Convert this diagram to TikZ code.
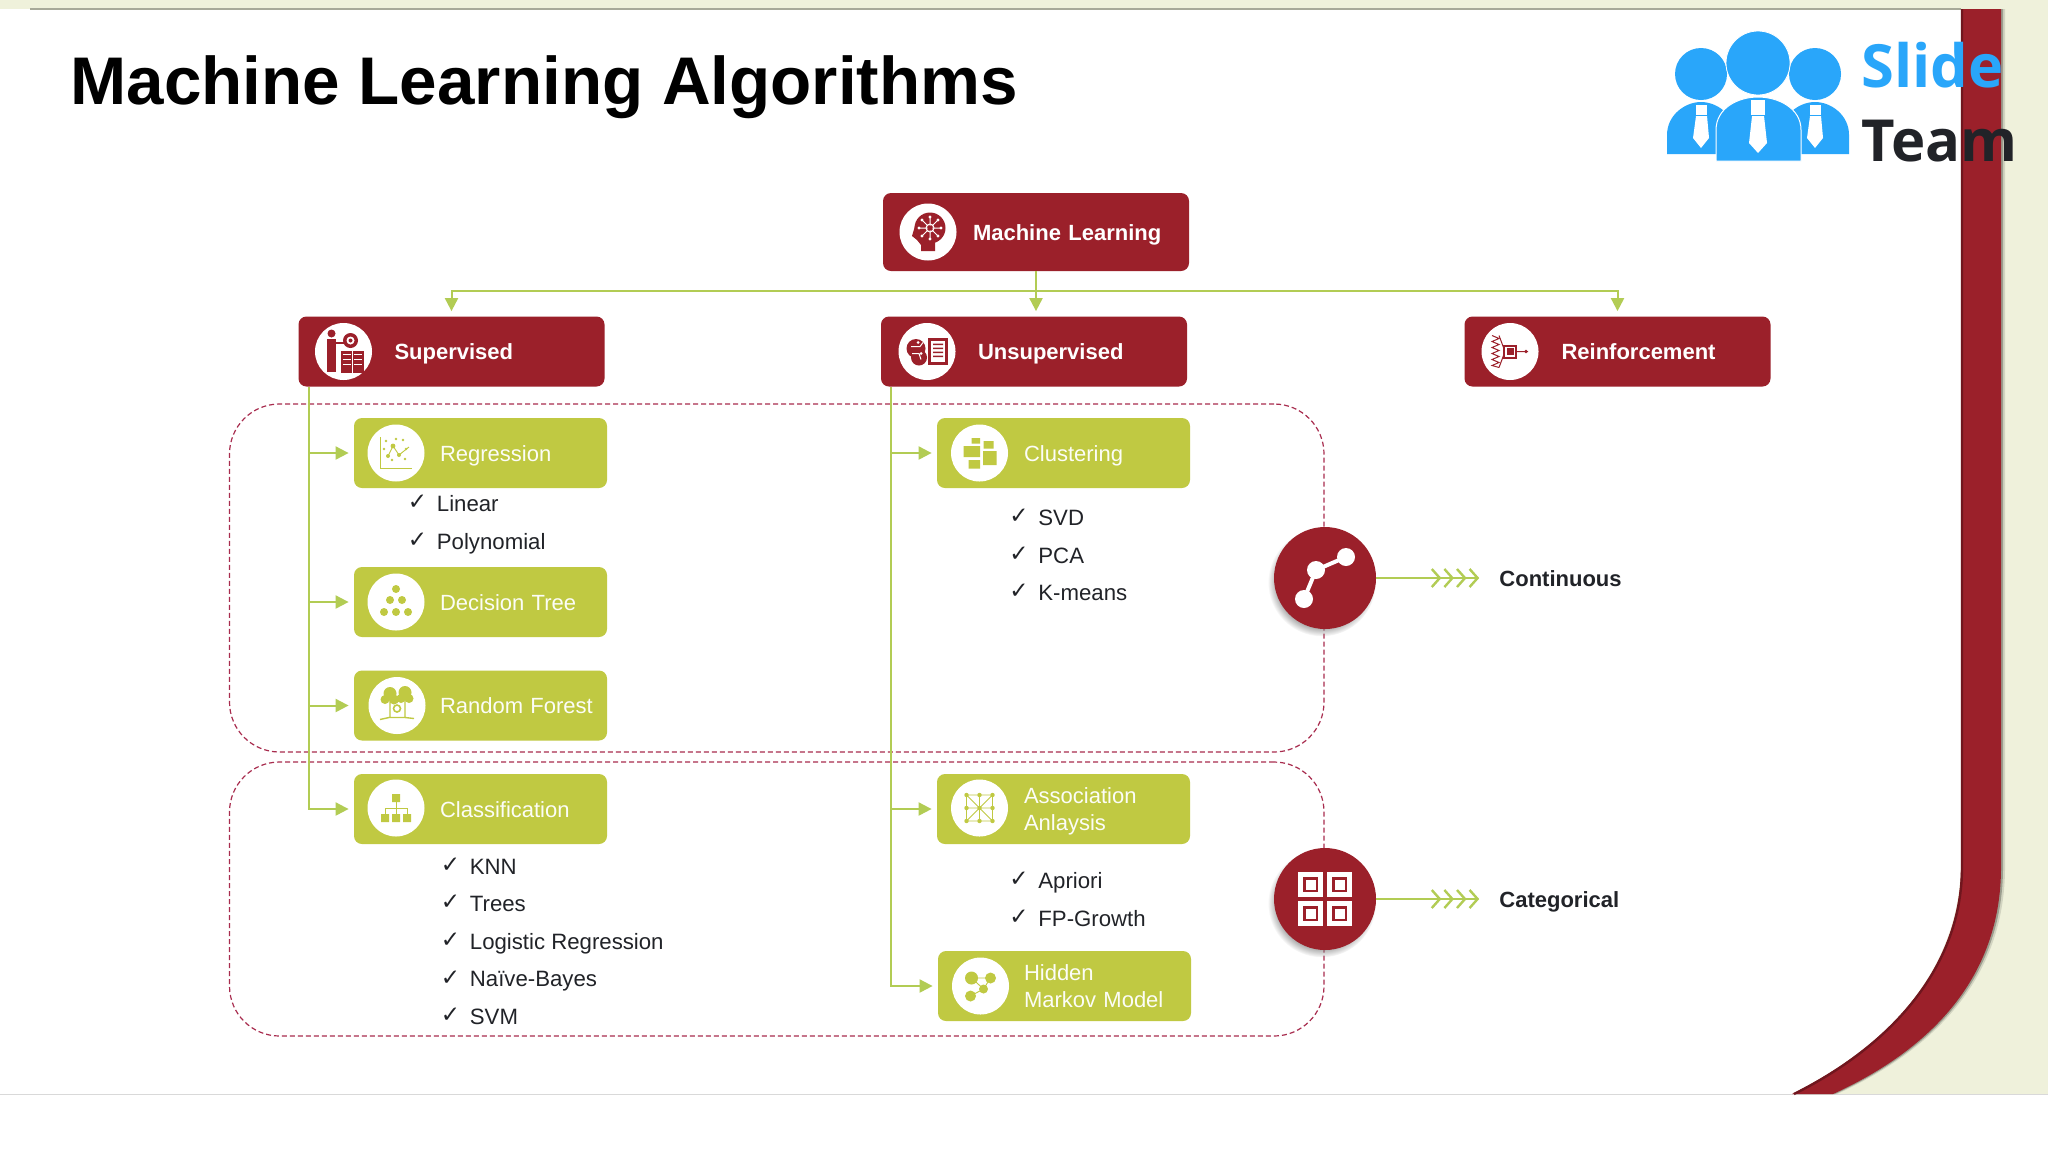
\documentclass[tikz,border=0pt]{standalone}
\usepackage{fontspec}
\setmainfont{Liberation Sans}
\newfontfamily\checkfont{DejaVu Sans}
\newfontfamily\logofont{Open Sans}
\usetikzlibrary{arrows.meta, shadows}
\definecolor{slidered}{RGB}{155,32,42}
\definecolor{darkred}{RGB}{112,22,30}
\definecolor{leafgreen}{RGB}{192,201,66}
\definecolor{linegreen}{RGB}{178,204,84}
\definecolor{dashred}{RGB}{168,44,78}
\definecolor{creambg}{RGB}{239,241,219}
\definecolor{inkgrey}{RGB}{33,35,40}
\definecolor{logoblue}{RGB}{41,166,250}
\newcommand{\chk}{\makebox[14.5pt][l]{\raisebox{0.6pt}{\checkfont\fontsize{11.5}{11}\selectfont ✓}}}
\newcommand{\bandpath}{(1961,9) -- (2001,9) -- (2001,867) .. controls (2001,970) and (1940,1045) .. (1833,1094) -- (1792,1094) .. controls (1900,1040) and (1961,960) .. (1961,867) -- cycle}
\tikzset{
    redbox/.style={rectangle, rounded corners=4pt, minimum width=153pt, minimum height=35pt, text width=153pt, inner xsep=0pt, inner ysep=0pt, align=left, fill=slidered, text=white, font=\fontsize{11}{13.5}\selectfont\bfseries, execute at begin node={\leftskip=#1\rule{0pt}{12.05pt}}, execute at end node={\strut}},
    leafbox/.style={rectangle, rounded corners=4pt, minimum width=126.5pt, minimum height=35pt, text width=126.5pt, inner xsep=0pt, inner ysep=0pt, align=left, fill=leafgreen, text=white!96!leafgreen, font=\fontsize{11}{13.5}\selectfont, execute at begin node={\leftskip=#1\rule{0pt}{12.05pt}}, execute at end node={\strut}},
    iconbadge/.style={circle, minimum size=28.5pt, inner sep=0pt, fill=white},
    groupbox/.style={rectangle, rounded corners=25pt, minimum width=547.25pt, draw=dashred, line width=0.6pt, dash pattern=on 2.5pt off 1.5pt},
    bigdot/.style={circle, minimum size=51pt, inner sep=0pt, fill=slidered, circular drop shadow={shadow scale=1.06, shadow xshift=-1.5pt, shadow yshift=-2pt, opacity=0.6}},
    listitem/.style={anchor=west, inner sep=0pt, text=inkgrey, text height=10.6pt, text depth=2.5pt, font=\fontsize{11.1}{13.5}\selectfont},
    sidelabel/.style={anchor=west, inner sep=0pt, text=inkgrey, text height=10.6pt, text depth=2.5pt, font=\fontsize{11}{13.5}\selectfont\bfseries},
    link/.style={draw=linegreen, line width=1pt, -{Triangle[length=6.5pt,width=6.5pt]}, shorten >=2.5pt},
    chevronlink/.style={draw=linegreen, line width=1pt, -{Straight Barb[length=4pt,width=9pt,sep=0.9pt,line width=1.2pt] Straight Barb[length=4pt,width=9pt,sep=0.9pt,line width=1.2pt] Straight Barb[length=4pt,width=9pt,sep=0.9pt,line width=1.2pt] Straight Barb[length=4pt,width=9pt,sep=0.9pt,line width=1.2pt]}, shorten >=9pt},
    redglyph/.style={fill=slidered, draw=none},
    leafglyph/.style={fill=leafgreen, draw=none},
    redthin/.style={draw=slidered, line width=0.5pt},
    leafthin/.style={draw=leafgreen, line width=0.45pt}
}
\begin{document}
\begin{tikzpicture}[x=0.5pt, y=-0.5pt]
    \useasboundingbox (0,0) rectangle (2048,1152);
    \fill [white] (0,0) rectangle (2048,1152);
    \fill [creambg] (0,0) rectangle (2048,1094);
    \fill [white] (0,9) rectangle (1965,1094);
    \fill [creambg] (1961,860) -- (2048,860) -- (2048,1094) -- (1792,1094) .. controls (1900,1040) and (1961,960) .. cycle;
    \draw [black!30!creambg, line width=1pt] (30,8.5) -- (1961,8.5);
    \draw [black!15!white, line width=0.6pt] (0,1094.5) -- (2048,1094.5);
    \fill [black!12!creambg, xshift=2pt] \bandpath;
    \fill [black!35!creambg, xshift=1pt] \bandpath;
    \fill [slidered] \bandpath;
    \draw [darkred, line width=1.2pt] (1962,9) -- (1962,867) .. controls (1962,960) and (1900,1041) .. (1794,1094);

    \fill [logoblue] (1667,154) -- (1667,135) .. controls (1667,115) and (1685,102) .. (1701,102) .. controls (1717,102) and (1735,115) .. (1735,135) -- (1735,154) -- cycle;
    \fill [logoblue] (1781,154) -- (1781,135) .. controls (1781,115) and (1799,102) .. (1815,102) .. controls (1831,102) and (1849,115) .. (1849,135) -- (1849,154) -- cycle;
    \filldraw [fill=logoblue, draw=white, line width=0.5pt] (1716,161) -- (1716,130) .. controls (1716,108) and (1738,97) .. (1758,97) .. controls (1778,97) and (1801,108) .. (1801,130) -- (1801,161) -- cycle;
    \fill [logoblue] (1701,74) circle (26);
    \fill [logoblue] (1815,74) circle (26);
    \filldraw [fill=logoblue, draw=white, line width=0.4pt] (1758,63) circle (32);
    \fill [white] (1751,100) rectangle (1765,115);
    \fill [white] (1752,116) -- (1764,116) -- (1767,143) -- (1758,153) -- (1749,143) -- cycle;
    \fill [white] (1696,105) rectangle (1707,115);
    \fill [white] (1696,116) -- (1707,116) -- (1709,138) -- (1701,148) -- (1693,138) -- cycle;
    \fill [white] (1810,105) rectangle (1821,115);
    \fill [white] (1810,116) -- (1821,116) -- (1823,138) -- (1815,148) -- (1807,138) -- cycle;
    \node (logoslide) [anchor=base west, inner sep=0pt, text=logoblue, font=\logofont\fontsize{29.8}{30}\selectfont\bfseries] at (1861,87.5) {Slide};
    \node (logoteam) [anchor=base west, inner sep=0pt, text=inkgrey, font=\logofont\fontsize{29}{30}\selectfont\bfseries] at (1861,161) {Team};

    \node (title) [anchor=west, inner sep=0pt, text=black, font=\fontsize{33.7}{40}\selectfont\bfseries] at (70,87.5) {Machine Learning Algorithms};

    \node (continuousgroup) [groupbox, minimum height=174pt] at (776.75,578) {};
    \node (categoricalgroup) [groupbox, minimum height=137pt] at (776.75,899) {};

    \node (ml) [redbox=45pt, minimum height=39pt] at (1036,232) {Machine Learning};
    \node (supervised) [redbox=48pt] at (451.5,351.5) {Supervised};
    \node (unsupervised) [redbox=48.5pt] at (1034,351.5) {Unsupervised};
    \node (reinforcement) [redbox=48.5pt] at (1617.5,351.5) {Reinforcement};

    \node (regression) [leafbox=43pt] at (480.5,453) {Regression};
    \node (decisiontree) [leafbox=43pt] at (480.5,602) {Decision Tree};
    \node (randomforest) [leafbox=43pt] at (480.5,705.5) {Random Forest};
    \node (classification) [leafbox=43pt] at (480.5,809) {Classification};
    \node (clustering) [leafbox=43.5pt] at (1063.5,453) {Clustering};
    \node (association) [leafbox=43.5pt] at (1063.5,809) {Association\\Anlaysis};
    \node (hiddenmarkov) [leafbox=43pt] at (1064.5,986) {Hidden\\Markov Model};

    \coordinate (fork) at (1036,291);
    \coordinate (supervisedtrunk) at (308.5,387);
    \coordinate (unsupervisedtrunk) at (891,387);
    \draw [draw=linegreen, line width=1pt] (ml.south) -- (fork);
    \draw [link] (fork) -- (fork |- unsupervised.north);
    \draw [link] (fork) -| (supervised.north);
    \draw [link] (fork) -| (reinforcement.north);
    \draw [link] (supervisedtrunk) |- (regression.west);
    \draw [link] (supervisedtrunk) |- (decisiontree.west);
    \draw [link] (supervisedtrunk) |- (randomforest.west);
    \draw [link] (supervisedtrunk) |- (classification.west);
    \draw [link] (unsupervisedtrunk) |- (clustering.west);
    \draw [link] (unsupervisedtrunk) |- (association.west);
    \draw [link] (unsupervisedtrunk) |- (hiddenmarkov.west);

    \node (linear) [listitem] at (407.5,503) {\chk Linear};
    \node (polynomial) [listitem] at (407.5,541) {\chk Polynomial};
    \node (knn) [listitem] at (440.5,866) {\chk KNN};
    \node (trees) [listitem] at (440.5,903) {\chk Trees};
    \node (logistic) [listitem] at (440.5,941) {\chk Logistic Regression};
    \node (naivebayes) [listitem] at (440.5,978.5) {\chk Naïve-Bayes};
    \node (svm) [listitem] at (440.5,1016) {\chk SVM};
    \node (svd) [listitem] at (1009,517) {\chk SVD};
    \node (pca) [listitem] at (1009,555) {\chk PCA};
    \node (kmeans) [listitem] at (1009,592) {\chk K-means};
    \node (apriori) [listitem] at (1009,880) {\chk Apriori};
    \node (fpgrowth) [listitem] at (1009,918) {\chk FP-Growth};

    \node (continuous) [bigdot] at (1325,578) {};
    \node (categorical) [bigdot] at (1325,899) {};
    \node (continuouslabel) [sidelabel] at (1499,578) {Continuous};
    \node (categoricallabel) [sidelabel] at (1499,899) {Categorical};
    \draw [chevronlink] (continuous) -- (continuouslabel);
    \draw [chevronlink] (categorical) -- (categoricallabel);

    \begin{scope}[shift={(continuous)}]
        \draw [white, line width=2pt] (-21,21) -- (-9,-8) -- (21,-21);
        \fill [white] (-21,21) circle (9);
        \fill [white] (-9,-8) circle (9);
        \fill [white] (21,-21) circle (9);
    \end{scope}
    \begin{scope}[shift={(categorical)}]
        \fill [white] (-27,-27) rectangle (-2,-2);
        \fill [white] (2,-27) rectangle (27,-2);
        \fill [white] (-27,2) rectangle (-2,27);
        \fill [white] (2,2) rectangle (27,27);
        \fill [slidered] (-22,-22) rectangle (-7,-7);
        \fill [slidered] (7,-22) rectangle (22,-7);
        \fill [slidered] (-22,7) rectangle (-7,22);
        \fill [slidered] (7,7) rectangle (22,22);
        \fill [white] (-19.5,-19.5) rectangle (-9.5,-9.5);
        \fill [white] (9.5,-19.5) rectangle (19.5,-9.5);
        \fill [white] (-19.5,9.5) rectangle (-9.5,19.5);
        \fill [white] (9.5,9.5) rectangle (19.5,19.5);
    \end{scope}

    \node (mlicon) [iconbadge] at (928,232) {};
    \begin{scope}[shift={(mlicon)}]
        \fill [redglyph] (2,-4) circle (15.5);
        \fill [redglyph] (-13,-6) -- (-16,4) -- (-11,8) -- (-7,13) -- (-7,19) -- (7,19) -- (7,6) -- cycle;
        \draw [white, line width=0.5pt] (2,-4) circle (4);
        \draw [white, line width=0.5pt] (2,-15) -- (2,7) (-9,-4) -- (13,-4) (-6,-12) -- (10,4) (-6,4) -- (10,-12);
        \fill [redglyph] (2,-4) circle (2.5);
        \fill [white] (2,-15) circle (1.7) (2,7) circle (1.7) (-9,-4) circle (1.7) (13,-4) circle (1.7) (-6,-12) circle (1.7) (10,4) circle (1.7) (-6,4) circle (1.7) (10,-12) circle (1.7);
    \end{scope}

    \node (supervisedicon) [iconbadge] at (343.5,351.5) {};
    \begin{scope}[shift={(supervisedicon)}]
        \fill [redglyph] (-12,-18) circle (4);
        \fill [redglyph] (-17,-13) rectangle (-8,20);
        \fill [redglyph] (-8,-10) rectangle (2,-8);
        \fill [redglyph] (7,-11) circle (7.5);
        \fill [white] (7,-11) circle (4);
        \fill [redglyph] (7,-11) circle (2);
        \fill [redglyph] (-3,-1) rectangle (20,21);
        \draw [white, line width=0.5pt] (8.5,-1) -- (8.5,21) (-1,3) -- (7,3) (-1,8) -- (7,8) (-1,13) -- (7,13) (10,3) -- (18,3) (10,8) -- (18,8) (10,13) -- (18,13);
    \end{scope}

    \node (unsupervisedicon) [iconbadge] at (927,351.5) {};
    \begin{scope}[shift={(unsupervisedicon)}]
        \fill [redglyph] (-11,-3) circle (9.5);
        \fill [redglyph] (-8,6) circle (8);
        \draw [white, line width=0.5pt] (-16,-5) -- (-7,-5) -- (-4,-9) (-15,2) -- (-8,2) -- (-6,8);
        \fill [white] (-9,-9) circle (1.5) (-6,2) circle (1.5);
        \fill [redglyph] (1,-14) rectangle (21,13);
        \fill [white] (4,-11) rectangle (18,10);
        \fill [redglyph] (6,-8) rectangle (16,-6.5) (6,-4) rectangle (16,-2.5) (6,0) rectangle (16,1.5) (6,4) rectangle (16,5.5);
    \end{scope}

    \node (reinforcementicon) [iconbadge] at (1510,351.5) {};
    \begin{scope}[shift={(reinforcementicon)}]
        \draw [redthin] (-18,-16) -- (-11,-13) -- (-18,-10) -- (-11,-7) -- (-18,-4) -- (-11,-1) -- (-18,2) -- (-11,5) -- (-18,8) -- (-11,11) -- (-18,14) -- (-11,16);
        \draw [redthin] (-11,-16) -- (-5,0) -- (-11,16) (-5,0) -- (18,0);
        \fill [redglyph] (-7,-7) rectangle (7,7);
        \fill [white] (-5,-5) rectangle (5,5);
        \fill [redglyph] (-3.5,-3.5) rectangle (3.5,3.5);
        \fill [redglyph] (16,0) circle (1.8);
    \end{scope}

    \node (regressionicon) [iconbadge] at (396,453) {};
    \begin{scope}[shift={(regressionicon)}]
        \draw [leafthin] (-16,-16) -- (-16,15) -- (16,15);
        \draw [leafthin] (-8,3) -- (-3,-7) -- (3,2) -- (13,-6);
        \fill [leafglyph] (-8,3) circle (2) (-3,-7) circle (2.4) (3,2) circle (2) (-10,-12) circle (1.3) (0,-14) circle (1.3) (7,-13) circle (1.3) (-4,7) circle (1.3) (9,6) circle (1.3) (-12,-4) circle (1.3) (10,-4) circle (1.3);
    \end{scope}

    \node (decisiontreeicon) [iconbadge] at (396,602) {};
    \begin{scope}[shift={(decisiontreeicon)}]
        \fill [leafglyph] (0,-13) circle (4) (-6,-2) circle (4) (6,-2) circle (4) (-12,10) circle (4) (0,10) circle (4) (12,10) circle (4);
    \end{scope}

    \node (randomforesticon) [iconbadge] at (397,705.5) {};
    \begin{scope}[shift={(randomforesticon)}]
        \fill [leafglyph] (-7,-12) circle (6.5) (-12,-6) circle (4.5) (-3,-6) circle (5) (8,-13) circle (6.5) (4,-7) circle (4.5) (12,-7) circle (4.5);
        \draw [leafthin, line width=0.7pt] (-7,-14) -- (-7,11) (8,-14) -- (8,11) (-17,14) -- (-8,12) -- (8,12) -- (17,13);
        \draw [leafthin, line width=0.8pt] (0,3) circle (3.5);
    \end{scope}

    \node (classificationicon) [iconbadge] at (396,808) {};
    \begin{scope}[shift={(classificationicon)}]
        \fill [leafglyph] (-4,-14) rectangle (4,-6) (-15,6) rectangle (-7,14) (-4,6) rectangle (4,14) (7,6) rectangle (15,14);
        \draw [leafthin] (0,-6) -- (0,6) (-11,6) -- (-11,0) -- (11,0) -- (11,6);
    \end{scope}

    \node (clusteringicon) [iconbadge] at (979.5,453) {};
    \begin{scope}[shift={(clusteringicon)}]
        \fill [leafglyph] (-8,-15) rectangle (0.5,-9.5) (4,-12) rectangle (14,-4.5) (-16,-7) rectangle (0.5,4) (3.5,-2) rectangle (17,12) (-11,7) rectangle (0.5,15.5);
    \end{scope}

    \node (associationicon) [iconbadge] at (979.5,808) {};
    \begin{scope}[shift={(associationicon)}]
        \draw [leafthin] (-13,-13) rectangle (13,13) (-13,0) -- (13,0) (0,-13) -- (0,13) (-13,-13) -- (13,13) (-13,13) -- (13,-13);
        \fill [leafglyph] (-13,-13) circle (2.2) (0,-13) circle (2.2) (13,-13) circle (2.2) (-13,0) circle (2.2) (0,0) circle (2.2) (13,0) circle (2.2) (-13,13) circle (2.2) (0,13) circle (2.2) (13,13) circle (2.2);
    \end{scope}

    \node (hiddenmarkovicon) [iconbadge] at (980.5,986) {};
    \begin{scope}[shift={(hiddenmarkovicon)}]
        \draw [leafthin] (-9,-8) -- (10,-8) -- (3,3) -- (-9,-8) (3,3) -- (-10,10);
        \fill [leafglyph] (-9,-8) circle (6.5) (10,-8) circle (5.5) (3,3) circle (4.5) (-10,10) circle (5.5);
    \end{scope}
\end{tikzpicture}
\end{document}
